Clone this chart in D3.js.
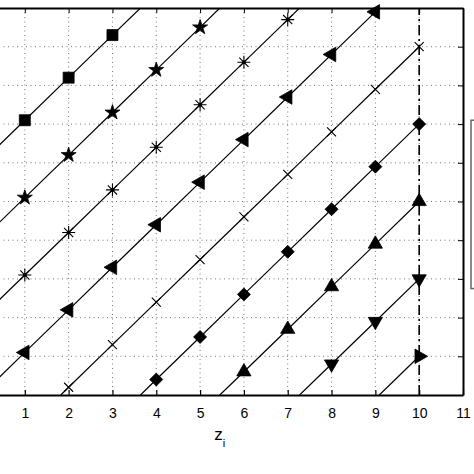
<!DOCTYPE html>
<meta charset="utf-8">
<style>
  body { margin: 0; background: #fff; }
  text { font-family: "Liberation Sans", Arial, sans-serif; }
</style>
<script src="https://cdn.jsdelivr.net/npm/d3@7"></script>
<div id="chart"></div>
<script>

// marker positions (y in grid units)
var squareX = [1, 2, 3],                         squareY = [7.1, 8.2, 9.3];
var starX = [1, 2, 3, 4, 5],                     starY = [5.1, 6.2, 7.3, 8.4, 9.5];
var asteriskX = [1, 2, 3, 4, 5, 6, 7],           asteriskY = [3.1, 4.2, 5.3, 6.4, 7.5, 8.6, 9.7];
var leftTriX = [1, 2, 3, 4, 5, 6, 7, 8, 9],      leftTriY = [1.1, 2.2, 3.3, 4.4, 5.5, 6.6, 7.7, 8.8, 9.9];
var crossX = [2, 3, 4, 5, 6, 7, 8, 9, 10],       crossY = [0.2, 1.3, 2.4, 3.5, 4.6, 5.7, 6.8, 7.9, 9.0];
var diamondX = [4, 5, 6, 7, 8, 9, 10],           diamondY = [0.4, 1.5, 2.6, 3.7, 4.8, 5.9, 7.0];
var upTriX = [6, 7, 8, 9, 10],                   upTriY = [0.6, 1.7, 2.8, 3.9, 5.0];
var downTriX = [8, 9, 10],                       downTriY = [0.8, 1.9, 3.0];
var rightTriX = [10],                            rightTriY = [1.0];

// where each line starts and stops
var lineStartX = [0, 0, 0, 0, 1.82, 3.64, 5.45, 7.27, 9.09];
var lineStartY = [6.0, 4.0, 2.0, 0, 0, 0, 0, 0, 0];
var lineEndX   = [3.64, 5.45, 7.27, 9.09, 10, 10, 10, 10, 10];
var lineEndY   = [10, 10, 10, 10, 9.0, 7.0, 5.0, 3.0, 1.0];

var markerTypes = ["square", "star", "asterisk", "left", "cross", "diamond", "up", "down", "right"];
var markerXs = [squareX, starX, asteriskX, leftTriX, crossX, diamondX, upTriX, downTriX, rightTriX];
var markerYs = [squareY, starY, asteriskY, leftTriY, crossY, diamondY, upTriY, downTriY, rightTriY];

var xTicks = [1, 2, 3, 4, 5, 6, 7, 8, 9, 10, 11];
var yTicks = [0, 1, 2, 3, 4, 5, 6, 7, 8, 9, 10];
var xDomain = [0, 11], yDomain = [0, 10];
var limitX = 10;
var xLabel = "z", xLabelSub = "i";

// the left part of the axes is cut off in the picture
var margin = {top: 8, left: -19},
    width = 482,
    height = 387;

var svg = d3.select("#chart")
  .append("svg")
    .attr("width", 474)
    .attr("height", 474)
  .append("g")
    .attr("transform", "translate(" + margin.left + "," + margin.top + ")");

var x = d3.scaleLinear().domain(xDomain).range([0, width]);
var y = d3.scaleLinear().domain(yDomain).range([height, 0]);

svg.append("clipPath").attr("id", "plotclip")
  .append("rect").attr("width", width).attr("height", height);

// dotted grid
svg.append("g")
  .selectAll("line.vg")
  .data(xTicks.filter(function(d) { return d > xDomain[0] && d < xDomain[1]; }))
  .enter().append("line")
    .attr("x1", function(d) { return x(d); })
    .attr("x2", function(d) { return x(d); })
    .attr("y1", 0).attr("y2", height)
    .attr("stroke", "#777").attr("stroke-width", 1)
    .attr("stroke-dasharray", "1,3.5");

svg.append("g")
  .selectAll("line.hg")
  .data(yTicks.filter(function(d) { return d > yDomain[0] && d < yDomain[1]; }))
  .enter().append("line")
    .attr("x1", 0).attr("x2", width)
    .attr("y1", function(d) { return y(d); })
    .attr("y2", function(d) { return y(d); })
    .attr("stroke", "#777").attr("stroke-width", 1)
    .attr("stroke-dasharray", "1,3.5");

// dash-dot limit line
svg.append("line")
  .attr("x1", x(limitX)).attr("x2", x(limitX))
  .attr("y1", y(yDomain[0])).attr("y2", y(yDomain[1]))
  .attr("stroke", "#000").attr("stroke-width", 1.6)
  .attr("stroke-dasharray", "10,4,2,4");

// lines
var line = d3.line()
  .x(function(d) { return x(d[0]); })
  .y(function(d) { return y(d[1]); });

var plot = svg.append("g").attr("clip-path", "url(#plotclip)");

markerTypes.forEach(function(t, i) {
  var pts = [[lineStartX[i], lineStartY[i]]];
  markerXs[i].forEach(function(v, j) { pts.push([v, markerYs[i][j]]); });
  pts.push([lineEndX[i], lineEndY[i]]);
  plot.append("path")
    .attr("d", line(pts))
    .attr("fill", "none")
    .attr("stroke", "#000")
    .attr("stroke-width", 1.2);
});

// marker shapes
function tri(r, ang) {
  var p = [];
  for (var k = 0; k < 3; k++) {
    var a = ang + k * 2 * Math.PI / 3;
    p.push([r * Math.cos(a), r * Math.sin(a)]);
  }
  return "M" + p.join("L") + "Z";
}
function markerPath(t) {
  if (t == "square") return "M-5.5,-5.5H5.5V5.5H-5.5Z";
  if (t == "star") return d3.symbol().type(d3.symbolStar).size(70)();
  if (t == "diamond") return "M0,-6.5L6.5,0L0,6.5L-6.5,0Z";
  if (t == "up") return tri(8.2, -Math.PI / 2);
  if (t == "down") return tri(8.2, Math.PI / 2);
  if (t == "left") return tri(8.4, Math.PI);
  if (t == "right") return tri(8.4, 0);
  if (t == "cross") return "M-4.5,-4.5L4.5,4.5M-4.5,4.5L4.5,-4.5";
  if (t == "asterisk") return "M-6.5,0H6.5M0,-6.5V6.5M-4.6,-4.6L4.6,4.6M-4.6,4.6L4.6,-4.6";
}

markerTypes.forEach(function(t, i) {
  var stroked = (t == "cross" || t == "asterisk");
  svg.append("g")
    .selectAll("path")
    .data(markerXs[i].map(function(v, j) { return [v, markerYs[i][j]]; }))
    .enter().append("path")
      .attr("transform", function(d) { return "translate(" + x(d[0]) + "," + y(d[1]) + ")"; })
      .attr("d", markerPath(t))
      .attr("fill", stroked ? "none" : "#000")
      .attr("stroke", "#000")
      .attr("stroke-width", stroked ? 1.1 : 0.8);
  if (t == "asterisk") {
    svg.append("g")
      .selectAll("circle")
      .data(markerXs[i].map(function(v, j) { return [v, markerYs[i][j]]; }))
      .enter().append("circle")
        .attr("cx", function(d) { return x(d[0]); })
        .attr("cy", function(d) { return y(d[1]); })
        .attr("r", 2)
        .attr("fill", "#000");
  }
});

// axes with inward ticks, box on top and right
var xAxis = svg.append("g")
  .attr("transform", "translate(0," + height + ")")
  .call(d3.axisBottom(x).tickValues(xTicks).tickSizeInner(-5).tickSizeOuter(0).tickPadding(13));
xAxis.select(".domain").attr("stroke-width", 2);
xAxis.selectAll(".tick line").attr("stroke-width", 1.2);
xAxis.selectAll("text").style("font-size", "14px").attr("fill", "#000");

var topAxis = svg.append("g")
  .call(d3.axisTop(x).tickValues(xTicks).tickSizeInner(-5).tickSizeOuter(0).tickFormat(""));
topAxis.select(".domain").attr("stroke-width", 2);

var rightAxis = svg.append("g")
  .attr("transform", "translate(" + width + ",0)")
  .call(d3.axisRight(y).tickValues(yTicks).tickSizeInner(-5).tickSizeOuter(0).tickFormat(""));
rightAxis.select(".domain").attr("stroke-width", 2);

// x label
var lab = svg.append("text")
  .attr("x", x(5.45))
  .attr("y", height + 45)
  .style("font-size", "17px")
  .attr("text-anchor", "middle");
lab.append("tspan").text(xLabel);
lab.append("tspan").attr("dy", 7).style("font-size", "11px").text(xLabelSub);

// edge of the box that sits beside the chart
svg.append("rect")
  .attr("x", width + 8)
  .attr("y", y(7.1))
  .attr("width", 20)
  .attr("height", y(2.75) - y(7.1))
  .attr("fill", "#fff")
  .attr("stroke", "#666")
  .attr("stroke-width", 1.5);

</script>
